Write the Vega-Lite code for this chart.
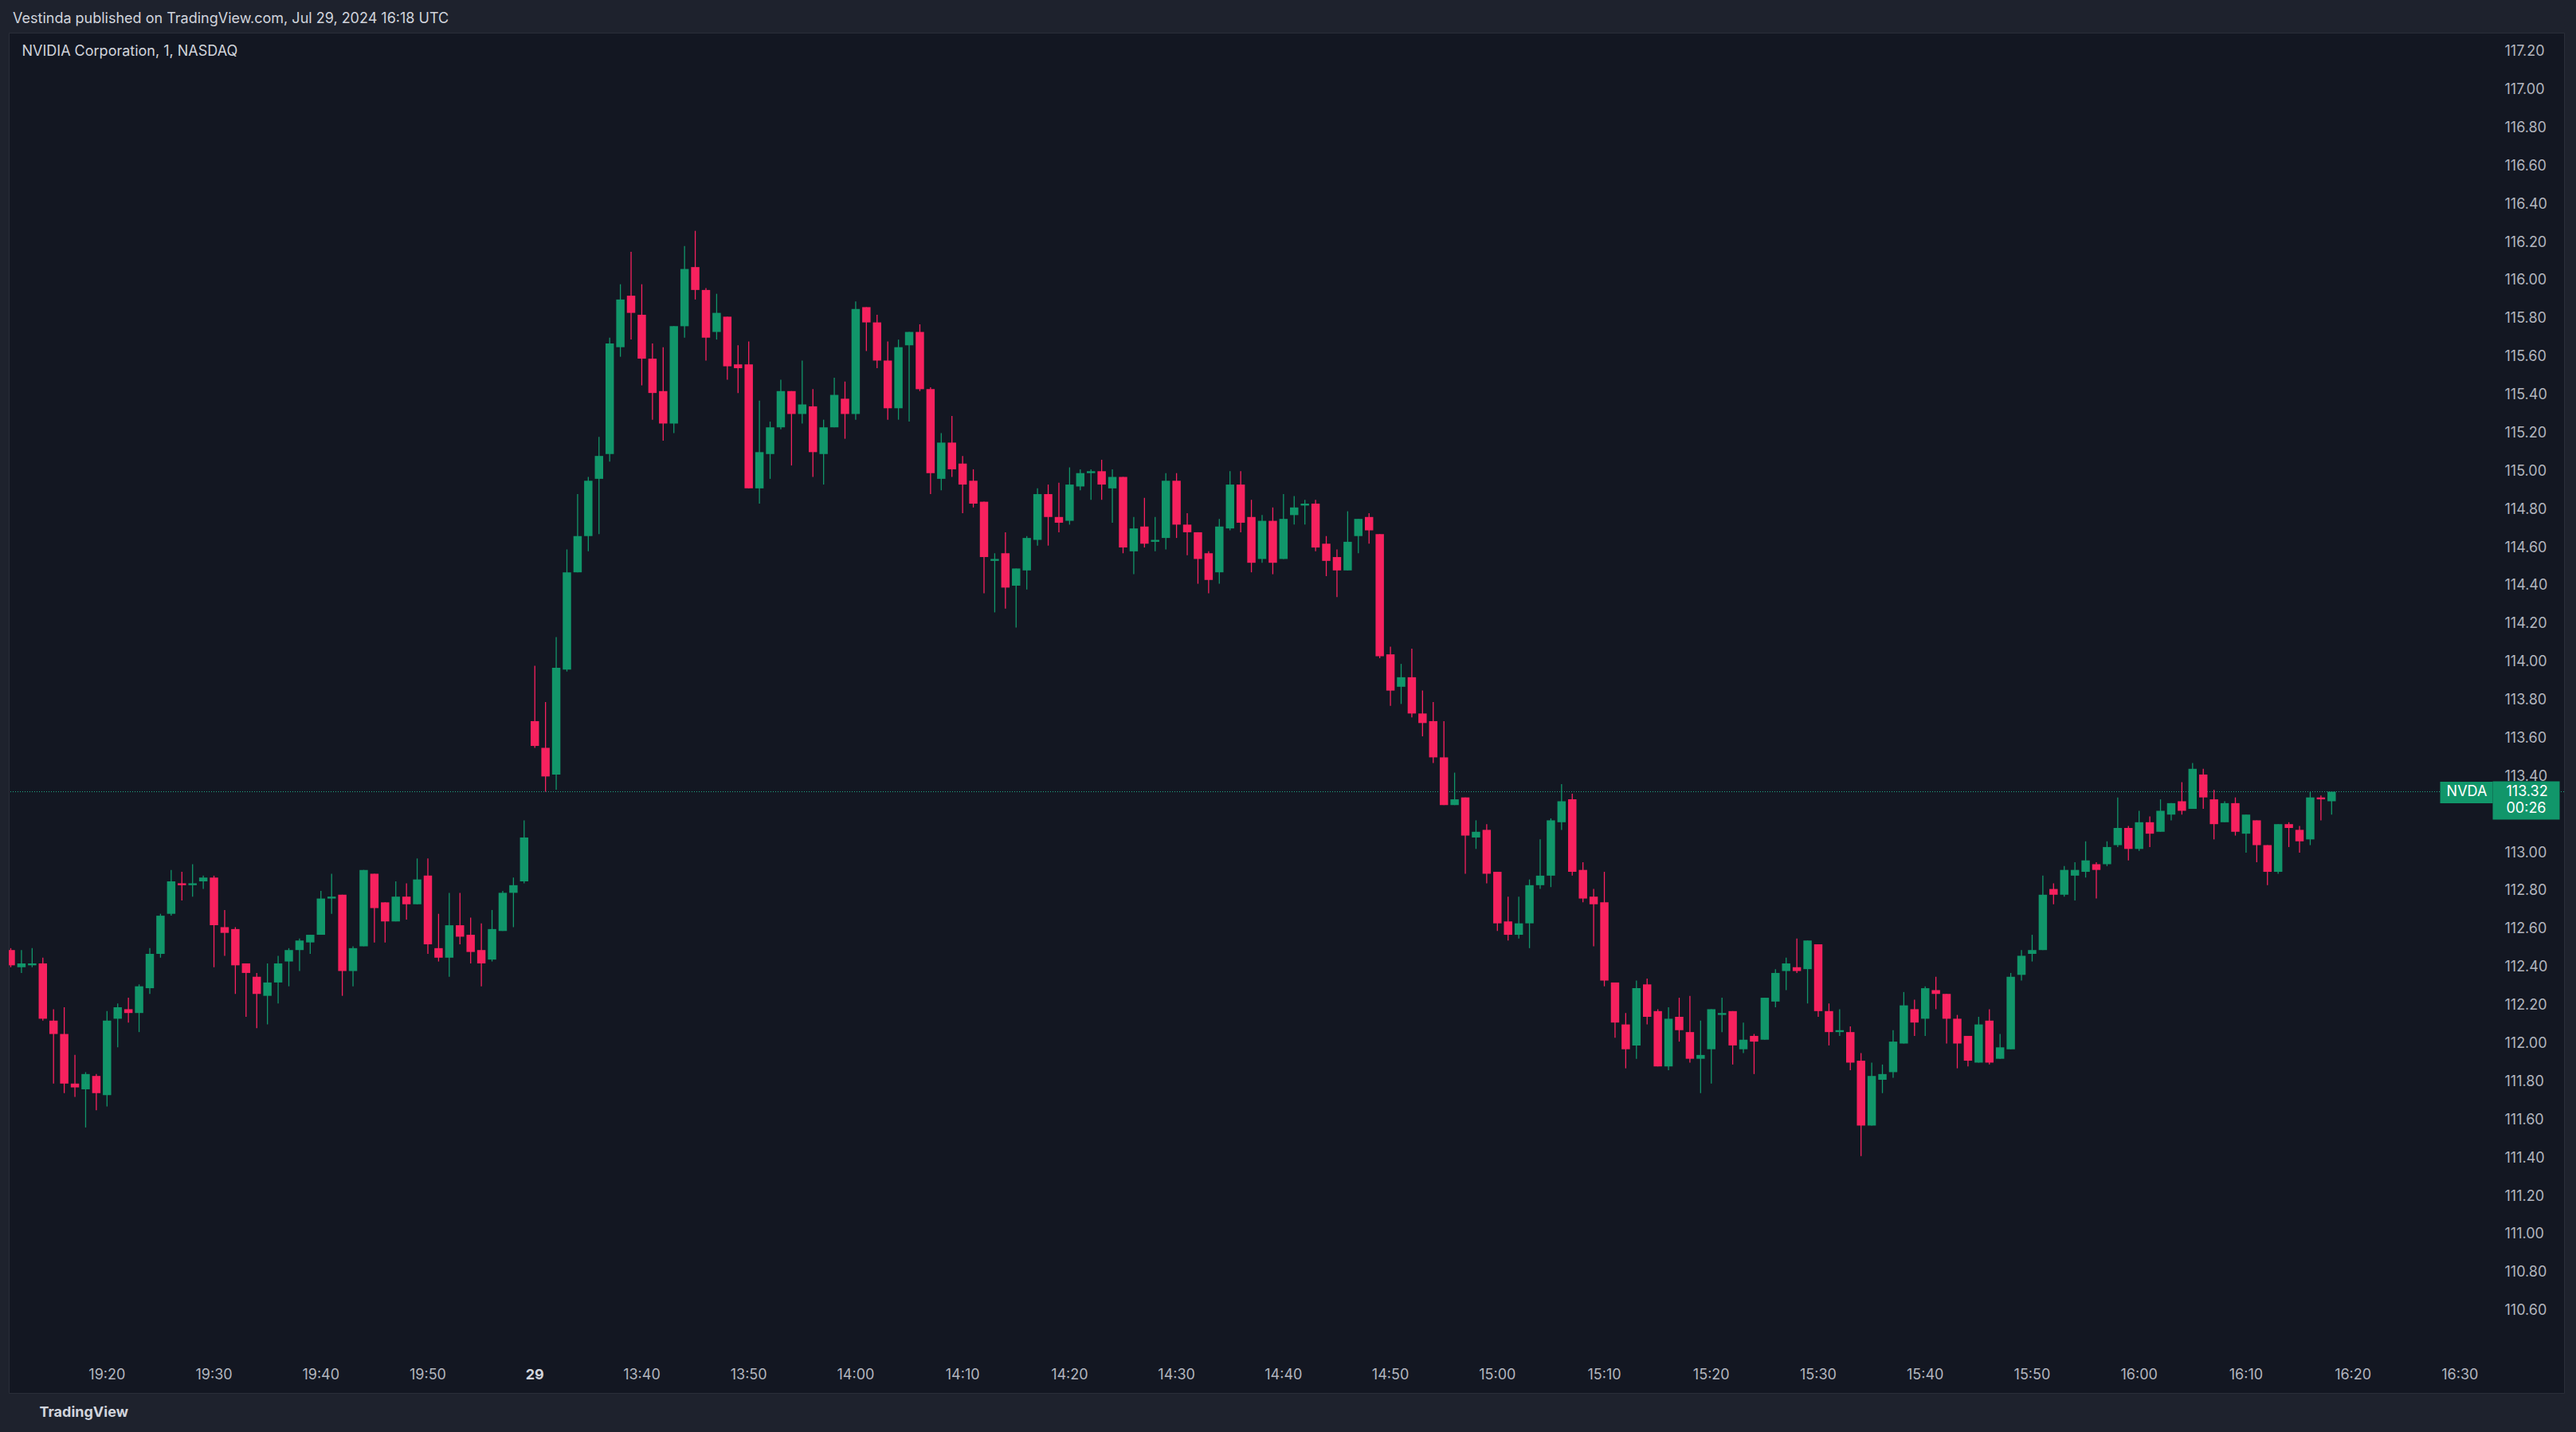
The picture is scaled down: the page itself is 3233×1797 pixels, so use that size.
{
  "$schema": "https://vega.github.io/schema/vega-lite/v6.json",
  "width": 3207,
  "height": 1707,
  "autosize": {"type": "none"},
  "padding": {"left": 11, "top": 41, "right": 15, "bottom": 49},
  "background": "#1e222d",
  "config": {
    "view": {"fill": "#131722", "stroke": "#2a2e39", "strokeWidth": 1}
  },
  "title": {
    "text": "Vestinda published on TradingView.com, Jul 29, 2024 16:18 UTC",
    "anchor": "start",
    "frame": "group",
    "offset": 8,
    "dx": 5,
    "font": "Inter",
    "fontSize": 18,
    "fontWeight": "normal",
    "color": "#d1d4dc"
  },
  "data": {
    "values": [
      {"t":"19:11","o":112.49,"h":112.5,"l":112.4,"c":112.41},
      {"t":"19:12","o":112.4,"h":112.49,"l":112.37,"c":112.42},
      {"t":"19:13","o":112.41,"h":112.5,"l":112.4,"c":112.42},
      {"t":"19:14","o":112.42,"h":112.45,"l":112.12,"c":112.13},
      {"t":"19:15","o":112.12,"h":112.18,"l":111.79,"c":112.05},
      {"t":"19:16","o":112.05,"h":112.19,"l":111.74,"c":111.79},
      {"t":"19:17","o":111.79,"h":111.94,"l":111.72,"c":111.77},
      {"t":"19:18","o":111.76,"h":111.85,"l":111.56,"c":111.84},
      {"t":"19:19","o":111.83,"h":111.84,"l":111.65,"c":111.74},
      {"t":"19:20","o":111.73,"h":112.17,"l":111.67,"c":112.12},
      {"t":"19:21","o":112.13,"h":112.21,"l":111.98,"c":112.19},
      {"t":"19:22","o":112.18,"h":112.24,"l":112.11,"c":112.16},
      {"t":"19:23","o":112.16,"h":112.31,"l":112.06,"c":112.3},
      {"t":"19:24","o":112.29,"h":112.5,"l":112.26,"c":112.47},
      {"t":"19:25","o":112.47,"h":112.68,"l":112.45,"c":112.67},
      {"t":"19:26","o":112.68,"h":112.91,"l":112.67,"c":112.85},
      {"t":"19:27","o":112.84,"h":112.9,"l":112.75,"c":112.83},
      {"t":"19:28","o":112.83,"h":112.94,"l":112.77,"c":112.84},
      {"t":"19:29","o":112.85,"h":112.88,"l":112.81,"c":112.87},
      {"t":"19:30","o":112.87,"h":112.88,"l":112.4,"c":112.62},
      {"t":"19:31","o":112.61,"h":112.7,"l":112.46,"c":112.58},
      {"t":"19:32","o":112.6,"h":112.61,"l":112.26,"c":112.41},
      {"t":"19:33","o":112.42,"h":112.42,"l":112.14,"c":112.37},
      {"t":"19:34","o":112.35,"h":112.37,"l":112.08,"c":112.26},
      {"t":"19:35","o":112.25,"h":112.42,"l":112.1,"c":112.32},
      {"t":"19:36","o":112.32,"h":112.46,"l":112.21,"c":112.42},
      {"t":"19:37","o":112.43,"h":112.5,"l":112.3,"c":112.49},
      {"t":"19:38","o":112.49,"h":112.55,"l":112.38,"c":112.54},
      {"t":"19:39","o":112.53,"h":112.57,"l":112.47,"c":112.57},
      {"t":"19:40","o":112.57,"h":112.8,"l":112.57,"c":112.76},
      {"t":"19:41","o":112.76,"h":112.89,"l":112.68,"c":112.77},
      {"t":"19:42","o":112.78,"h":112.78,"l":112.25,"c":112.38},
      {"t":"19:43","o":112.38,"h":112.51,"l":112.3,"c":112.5},
      {"t":"19:44","o":112.51,"h":112.91,"l":112.51,"c":112.91},
      {"t":"19:45","o":112.89,"h":112.89,"l":112.53,"c":112.71},
      {"t":"19:46","o":112.74,"h":112.74,"l":112.53,"c":112.64},
      {"t":"19:47","o":112.64,"h":112.85,"l":112.64,"c":112.77},
      {"t":"19:48","o":112.77,"h":112.84,"l":112.65,"c":112.73},
      {"t":"19:49","o":112.73,"h":112.97,"l":112.73,"c":112.86},
      {"t":"19:50","o":112.88,"h":112.97,"l":112.47,"c":112.52},
      {"t":"19:51","o":112.5,"h":112.68,"l":112.43,"c":112.45},
      {"t":"19:52","o":112.45,"h":112.79,"l":112.35,"c":112.62},
      {"t":"19:53","o":112.62,"h":112.79,"l":112.52,"c":112.56},
      {"t":"19:54","o":112.57,"h":112.66,"l":112.42,"c":112.48},
      {"t":"19:55","o":112.49,"h":112.63,"l":112.3,"c":112.42},
      {"t":"19:56","o":112.44,"h":112.7,"l":112.43,"c":112.6},
      {"t":"19:57","o":112.59,"h":112.8,"l":112.59,"c":112.79},
      {"t":"19:58","o":112.79,"h":112.87,"l":112.61,"c":112.83},
      {"t":"19:59","o":112.85,"h":113.17,"l":112.84,"c":113.08},
      {"t":"13:30","o":113.69,"h":113.98,"l":113.55,"c":113.56},
      {"t":"13:31","o":113.55,"h":113.79,"l":113.32,"c":113.4},
      {"t":"13:32","o":113.41,"h":114.13,"l":113.33,"c":113.97},
      {"t":"13:33","o":113.96,"h":114.59,"l":113.95,"c":114.47},
      {"t":"13:34","o":114.47,"h":114.88,"l":114.47,"c":114.66},
      {"t":"13:35","o":114.66,"h":114.97,"l":114.58,"c":114.95},
      {"t":"13:36","o":114.96,"h":115.18,"l":114.67,"c":115.08},
      {"t":"13:37","o":115.09,"h":115.7,"l":115.05,"c":115.67},
      {"t":"13:38","o":115.65,"h":115.98,"l":115.6,"c":115.9},
      {"t":"13:39","o":115.92,"h":116.15,"l":115.69,"c":115.83},
      {"t":"13:40","o":115.82,"h":115.98,"l":115.45,"c":115.59},
      {"t":"13:41","o":115.59,"h":115.67,"l":115.27,"c":115.41},
      {"t":"13:42","o":115.42,"h":115.65,"l":115.16,"c":115.25},
      {"t":"13:43","o":115.25,"h":115.76,"l":115.2,"c":115.76},
      {"t":"13:44","o":115.76,"h":116.18,"l":115.7,"c":116.06},
      {"t":"13:45","o":116.07,"h":116.26,"l":115.9,"c":115.95},
      {"t":"13:46","o":115.95,"h":115.96,"l":115.58,"c":115.7},
      {"t":"13:47","o":115.73,"h":115.93,"l":115.69,"c":115.83},
      {"t":"13:48","o":115.81,"h":115.81,"l":115.48,"c":115.55},
      {"t":"13:49","o":115.56,"h":115.66,"l":115.41,"c":115.54},
      {"t":"13:50","o":115.56,"h":115.68,"l":114.91,"c":114.91},
      {"t":"13:51","o":114.91,"h":115.37,"l":114.83,"c":115.1},
      {"t":"13:52","o":115.09,"h":115.26,"l":114.96,"c":115.23},
      {"t":"13:53","o":115.23,"h":115.48,"l":115.22,"c":115.42},
      {"t":"13:54","o":115.42,"h":115.42,"l":115.03,"c":115.3},
      {"t":"13:55","o":115.3,"h":115.58,"l":115.25,"c":115.35},
      {"t":"13:56","o":115.34,"h":115.43,"l":114.97,"c":115.1},
      {"t":"13:57","o":115.09,"h":115.27,"l":114.93,"c":115.23},
      {"t":"13:58","o":115.23,"h":115.49,"l":115.23,"c":115.4},
      {"t":"13:59","o":115.38,"h":115.47,"l":115.17,"c":115.3},
      {"t":"14:00","o":115.3,"h":115.89,"l":115.27,"c":115.85},
      {"t":"14:01","o":115.86,"h":115.86,"l":115.63,"c":115.78},
      {"t":"14:02","o":115.78,"h":115.82,"l":115.54,"c":115.58},
      {"t":"14:03","o":115.58,"h":115.68,"l":115.27,"c":115.33},
      {"t":"14:04","o":115.33,"h":115.69,"l":115.27,"c":115.65},
      {"t":"14:05","o":115.66,"h":115.73,"l":115.26,"c":115.73},
      {"t":"14:06","o":115.73,"h":115.77,"l":115.42,"c":115.43},
      {"t":"14:07","o":115.43,"h":115.44,"l":114.88,"c":114.99},
      {"t":"14:08","o":114.96,"h":115.2,"l":114.9,"c":115.15},
      {"t":"14:09","o":115.15,"h":115.29,"l":114.97,"c":115.01},
      {"t":"14:10","o":115.04,"h":115.08,"l":114.78,"c":114.93},
      {"t":"14:11","o":114.95,"h":115.01,"l":114.81,"c":114.83},
      {"t":"14:12","o":114.84,"h":114.84,"l":114.36,"c":114.55},
      {"t":"14:13","o":114.53,"h":114.57,"l":114.26,"c":114.54},
      {"t":"14:14","o":114.57,"h":114.68,"l":114.28,"c":114.39},
      {"t":"14:15","o":114.4,"h":114.49,"l":114.18,"c":114.49},
      {"t":"14:16","o":114.48,"h":114.66,"l":114.38,"c":114.65},
      {"t":"14:17","o":114.64,"h":114.91,"l":114.61,"c":114.88},
      {"t":"14:18","o":114.88,"h":114.93,"l":114.61,"c":114.76},
      {"t":"14:19","o":114.76,"h":114.94,"l":114.68,"c":114.73},
      {"t":"14:20","o":114.74,"h":115.02,"l":114.72,"c":114.93},
      {"t":"14:21","o":114.92,"h":115.01,"l":114.9,"c":114.99},
      {"t":"14:22","o":114.99,"h":115.01,"l":114.85,"c":115.0},
      {"t":"14:23","o":115.0,"h":115.06,"l":114.85,"c":114.93},
      {"t":"14:24","o":114.91,"h":115.01,"l":114.73,"c":114.97},
      {"t":"14:25","o":114.97,"h":114.97,"l":114.57,"c":114.6},
      {"t":"14:26","o":114.58,"h":114.76,"l":114.46,"c":114.7},
      {"t":"14:27","o":114.71,"h":114.86,"l":114.6,"c":114.62},
      {"t":"14:28","o":114.63,"h":114.76,"l":114.58,"c":114.64},
      {"t":"14:29","o":114.65,"h":114.99,"l":114.59,"c":114.95},
      {"t":"14:30","o":114.95,"h":114.99,"l":114.65,"c":114.72},
      {"t":"14:31","o":114.72,"h":114.78,"l":114.56,"c":114.68},
      {"t":"14:32","o":114.68,"h":114.68,"l":114.41,"c":114.54},
      {"t":"14:33","o":114.57,"h":114.58,"l":114.36,"c":114.43},
      {"t":"14:34","o":114.47,"h":114.75,"l":114.41,"c":114.71},
      {"t":"14:35","o":114.7,"h":115.0,"l":114.69,"c":114.93},
      {"t":"14:36","o":114.93,"h":115.0,"l":114.68,"c":114.73},
      {"t":"14:37","o":114.76,"h":114.85,"l":114.47,"c":114.52},
      {"t":"14:38","o":114.54,"h":114.77,"l":114.52,"c":114.74},
      {"t":"14:39","o":114.74,"h":114.81,"l":114.46,"c":114.52},
      {"t":"14:40","o":114.54,"h":114.88,"l":114.54,"c":114.75},
      {"t":"14:41","o":114.77,"h":114.87,"l":114.72,"c":114.81},
      {"t":"14:42","o":114.82,"h":114.85,"l":114.72,"c":114.83},
      {"t":"14:43","o":114.83,"h":114.85,"l":114.58,"c":114.6},
      {"t":"14:44","o":114.62,"h":114.66,"l":114.45,"c":114.53},
      {"t":"14:45","o":114.55,"h":114.59,"l":114.34,"c":114.48},
      {"t":"14:46","o":114.48,"h":114.79,"l":114.48,"c":114.63},
      {"t":"14:47","o":114.66,"h":114.75,"l":114.57,"c":114.75},
      {"t":"14:48","o":114.76,"h":114.78,"l":114.62,"c":114.69},
      {"t":"14:49","o":114.67,"h":114.67,"l":114.02,"c":114.03},
      {"t":"14:50","o":114.04,"h":114.08,"l":113.77,"c":113.85},
      {"t":"14:51","o":113.87,"h":113.99,"l":113.78,"c":113.92},
      {"t":"14:52","o":113.92,"h":114.07,"l":113.71,"c":113.73},
      {"t":"14:53","o":113.73,"h":113.85,"l":113.61,"c":113.68},
      {"t":"14:54","o":113.69,"h":113.79,"l":113.47,"c":113.5},
      {"t":"14:55","o":113.5,"h":113.69,"l":113.25,"c":113.25},
      {"t":"14:56","o":113.25,"h":113.42,"l":113.25,"c":113.28},
      {"t":"14:57","o":113.29,"h":113.29,"l":112.89,"c":113.09},
      {"t":"14:58","o":113.08,"h":113.17,"l":113.02,"c":113.11},
      {"t":"14:59","o":113.12,"h":113.15,"l":112.84,"c":112.89},
      {"t":"15:00","o":112.9,"h":112.9,"l":112.59,"c":112.63},
      {"t":"15:01","o":112.64,"h":112.77,"l":112.54,"c":112.57},
      {"t":"15:02","o":112.57,"h":112.77,"l":112.55,"c":112.63},
      {"t":"15:03","o":112.63,"h":112.86,"l":112.5,"c":112.83},
      {"t":"15:04","o":112.83,"h":113.07,"l":112.81,"c":112.88},
      {"t":"15:05","o":112.88,"h":113.18,"l":112.82,"c":113.17},
      {"t":"15:06","o":113.16,"h":113.36,"l":113.12,"c":113.27},
      {"t":"15:07","o":113.28,"h":113.31,"l":112.88,"c":112.9},
      {"t":"15:08","o":112.91,"h":112.95,"l":112.74,"c":112.76},
      {"t":"15:09","o":112.77,"h":112.81,"l":112.51,"c":112.73},
      {"t":"15:10","o":112.74,"h":112.9,"l":112.3,"c":112.33},
      {"t":"15:11","o":112.32,"h":112.32,"l":112.03,"c":112.11},
      {"t":"15:12","o":112.1,"h":112.16,"l":111.87,"c":111.97},
      {"t":"15:13","o":111.99,"h":112.33,"l":111.92,"c":112.29},
      {"t":"15:14","o":112.31,"h":112.34,"l":112.1,"c":112.14},
      {"t":"15:15","o":112.17,"h":112.18,"l":111.88,"c":111.88},
      {"t":"15:16","o":111.88,"h":112.19,"l":111.86,"c":112.13},
      {"t":"15:17","o":112.14,"h":112.24,"l":112.01,"c":112.07},
      {"t":"15:18","o":112.06,"h":112.25,"l":111.9,"c":111.92},
      {"t":"15:19","o":111.92,"h":112.12,"l":111.74,"c":111.94},
      {"t":"15:20","o":111.97,"h":112.18,"l":111.79,"c":112.18},
      {"t":"15:21","o":112.15,"h":112.24,"l":112.06,"c":112.16},
      {"t":"15:22","o":112.17,"h":112.17,"l":111.89,"c":111.99},
      {"t":"15:23","o":111.97,"h":112.11,"l":111.95,"c":112.02},
      {"t":"15:24","o":112.04,"h":112.05,"l":111.84,"c":112.01},
      {"t":"15:25","o":112.02,"h":112.24,"l":112.02,"c":112.24},
      {"t":"15:26","o":112.22,"h":112.39,"l":112.19,"c":112.37},
      {"t":"15:27","o":112.38,"h":112.45,"l":112.28,"c":112.42},
      {"t":"15:28","o":112.4,"h":112.55,"l":112.37,"c":112.38},
      {"t":"15:29","o":112.39,"h":112.54,"l":112.21,"c":112.54},
      {"t":"15:30","o":112.52,"h":112.52,"l":112.14,"c":112.17},
      {"t":"15:31","o":112.17,"h":112.21,"l":111.99,"c":112.06},
      {"t":"15:32","o":112.06,"h":112.18,"l":112.04,"c":112.07},
      {"t":"15:33","o":112.06,"h":112.09,"l":111.86,"c":111.9},
      {"t":"15:34","o":111.91,"h":111.95,"l":111.41,"c":111.57},
      {"t":"15:35","o":111.57,"h":111.9,"l":111.57,"c":111.83},
      {"t":"15:36","o":111.81,"h":111.89,"l":111.74,"c":111.84},
      {"t":"15:37","o":111.85,"h":112.07,"l":111.82,"c":112.01},
      {"t":"15:38","o":112.0,"h":112.27,"l":112.0,"c":112.2},
      {"t":"15:39","o":112.18,"h":112.23,"l":112.04,"c":112.11},
      {"t":"15:40","o":112.13,"h":112.3,"l":112.04,"c":112.29},
      {"t":"15:41","o":112.28,"h":112.35,"l":112.18,"c":112.26},
      {"t":"15:42","o":112.26,"h":112.26,"l":112.0,"c":112.13},
      {"t":"15:43","o":112.13,"h":112.15,"l":111.87,"c":112.0},
      {"t":"15:44","o":112.04,"h":112.04,"l":111.88,"c":111.91},
      {"t":"15:45","o":111.9,"h":112.14,"l":111.9,"c":112.1},
      {"t":"15:46","o":112.12,"h":112.18,"l":111.89,"c":111.9},
      {"t":"15:47","o":111.92,"h":112.05,"l":111.92,"c":111.98},
      {"t":"15:48","o":111.97,"h":112.37,"l":111.97,"c":112.35},
      {"t":"15:49","o":112.36,"h":112.49,"l":112.33,"c":112.46},
      {"t":"15:50","o":112.47,"h":112.57,"l":112.43,"c":112.49},
      {"t":"15:51","o":112.49,"h":112.88,"l":112.49,"c":112.78},
      {"t":"15:52","o":112.81,"h":112.84,"l":112.73,"c":112.78},
      {"t":"15:53","o":112.78,"h":112.93,"l":112.77,"c":112.91},
      {"t":"15:54","o":112.88,"h":112.95,"l":112.75,"c":112.91},
      {"t":"15:55","o":112.9,"h":113.06,"l":112.87,"c":112.96},
      {"t":"15:56","o":112.94,"h":112.95,"l":112.76,"c":112.91},
      {"t":"15:57","o":112.94,"h":113.06,"l":112.93,"c":113.03},
      {"t":"15:58","o":113.04,"h":113.29,"l":113.03,"c":113.13},
      {"t":"15:59","o":113.13,"h":113.14,"l":112.96,"c":113.02},
      {"t":"16:00","o":113.02,"h":113.22,"l":113.01,"c":113.16},
      {"t":"16:01","o":113.16,"h":113.19,"l":113.03,"c":113.1},
      {"t":"16:02","o":113.11,"h":113.28,"l":113.11,"c":113.22},
      {"t":"16:03","o":113.2,"h":113.26,"l":113.17,"c":113.26},
      {"t":"16:04","o":113.27,"h":113.37,"l":113.2,"c":113.22},
      {"t":"16:05","o":113.23,"h":113.47,"l":113.23,"c":113.44},
      {"t":"16:06","o":113.41,"h":113.44,"l":113.23,"c":113.29},
      {"t":"16:07","o":113.28,"h":113.33,"l":113.07,"c":113.15},
      {"t":"16:08","o":113.16,"h":113.27,"l":113.16,"c":113.26},
      {"t":"16:09","o":113.26,"h":113.29,"l":113.09,"c":113.11},
      {"t":"16:10","o":113.1,"h":113.2,"l":113.0,"c":113.2},
      {"t":"16:11","o":113.17,"h":113.17,"l":112.95,"c":113.04},
      {"t":"16:12","o":113.04,"h":113.04,"l":112.83,"c":112.9},
      {"t":"16:13","o":112.9,"h":113.15,"l":112.89,"c":113.15},
      {"t":"16:14","o":113.15,"h":113.16,"l":113.03,"c":113.13},
      {"t":"16:15","o":113.12,"h":113.14,"l":113.0,"c":113.06},
      {"t":"16:16","o":113.07,"h":113.32,"l":113.04,"c":113.29},
      {"t":"16:17","o":113.29,"h":113.3,"l":113.17,"c":113.28},
      {"t":"16:18","o":113.27,"h":113.32,"l":113.2,"c":113.32}
    ]
  },
  "encoding": {
    "x": {
      "field": "t",
      "type": "ordinal",
      "scale": {
        "domain": ["19:11","19:12","19:13","19:14","19:15","19:16","19:17","19:18","19:19","19:20","19:21","19:22","19:23","19:24","19:25","19:26","19:27","19:28","19:29","19:30","19:31","19:32","19:33","19:34","19:35","19:36","19:37","19:38","19:39","19:40","19:41","19:42","19:43","19:44","19:45","19:46","19:47","19:48","19:49","19:50","19:51","19:52","19:53","19:54","19:55","19:56","19:57","19:58","19:59",
          "13:30","13:31","13:32","13:33","13:34","13:35","13:36","13:37","13:38","13:39","13:40","13:41","13:42","13:43","13:44","13:45","13:46","13:47","13:48","13:49","13:50","13:51","13:52","13:53","13:54","13:55","13:56","13:57","13:58","13:59",
          "14:00","14:01","14:02","14:03","14:04","14:05","14:06","14:07","14:08","14:09","14:10","14:11","14:12","14:13","14:14","14:15","14:16","14:17","14:18","14:19","14:20","14:21","14:22","14:23","14:24","14:25","14:26","14:27","14:28","14:29","14:30","14:31","14:32","14:33","14:34","14:35","14:36","14:37","14:38","14:39","14:40","14:41","14:42","14:43","14:44","14:45","14:46","14:47","14:48","14:49","14:50","14:51","14:52","14:53","14:54","14:55","14:56","14:57","14:58","14:59",
          "15:00","15:01","15:02","15:03","15:04","15:05","15:06","15:07","15:08","15:09","15:10","15:11","15:12","15:13","15:14","15:15","15:16","15:17","15:18","15:19","15:20","15:21","15:22","15:23","15:24","15:25","15:26","15:27","15:28","15:29","15:30","15:31","15:32","15:33","15:34","15:35","15:36","15:37","15:38","15:39","15:40","15:41","15:42","15:43","15:44","15:45","15:46","15:47","15:48","15:49","15:50","15:51","15:52","15:53","15:54","15:55","15:56","15:57","15:58","15:59",
          "16:00","16:01","16:02","16:03","16:04","16:05","16:06","16:07","16:08","16:09","16:10","16:11","16:12","16:13","16:14","16:15","16:16","16:17","16:18","16:19","16:20","16:21","16:22","16:23","16:24","16:25","16:26","16:27","16:28","16:29","16:30","16:31","16:32"],
        "range": [-2.735, 3108.45],
        "paddingInner": 0.22,
        "paddingOuter": 0
      },
      "axis": {
        "orient": "bottom",
        "offset": -36,
        "values": ["19:20","19:30","19:40","19:50","13:30","13:40","13:50","14:00","14:10","14:20","14:30","14:40","14:50","15:00","15:10","15:20","15:30","15:40","15:50","16:00","16:10","16:20","16:30"],
        "labelExpr": "datum.value == '13:30' ? '29' : datum.label",
        "labelAngle": 0,
        "domain": false,
        "ticks": false,
        "grid": false,
        "labelPadding": 4,
        "labelFont": "Inter",
        "labelFontSize": 18,
        "labelFontWeight": {"condition": {"test": "datum.value == '13:30'", "value": "bold"}, "value": "normal"},
        "labelColor": {"condition": {"test": "datum.value == '13:30'", "value": "#d1d4dc"}, "value": "#b2b5be"},
        "title": "TradingView",
        "titleX": 38,
        "titleY": 60,
        "titleAlign": "left",
        "titleAnchor": "start",
        "titleBaseline": "middle",
        "titleFont": "Inter",
        "titleFontSize": 18,
        "titleFontWeight": "bold",
        "titleColor": "#d1d4dc"
      }
    },
    "y": {
      "type": "quantitative",
      "scale": {"domain": [110.6, 117.2], "range": [1603.67, 23.63], "zero": false, "nice": false},
      "axis": {
        "orient": "right",
        "offset": -90,
        "zindex": 2,
        "values": [110.6,110.8,111,111.2,111.4,111.6,111.8,112,112.2,112.4,112.6,112.8,113,113.4,113.6,113.8,114,114.2,114.4,114.6,114.8,115,115.2,115.4,115.6,115.8,116,116.2,116.4,116.6,116.8,117,117.2,113.32,113.2761],
        "format": ".2f",
        "labelExpr": "abs(datum.value-113.32)<0.0001 ? 'NVDA' : (abs(datum.value-113.2761)<0.0001 ? ['113.32','00:26'] : datum.label)",
        "domain": false,
        "grid": false,
        "ticks": true,
        "tickSize": {"condition": [{"test": "abs(datum.value-113.32)<0.0001", "value": -66}, {"test": "abs(datum.value-113.2761)<0.0001", "value": 84}], "value": 0},
        "tickWidth": {"condition": [{"test": "abs(datum.value-113.32)<0.0001", "value": 27}, {"test": "abs(datum.value-113.2761)<0.0001", "value": 48}], "value": 0},
        "tickColor": {"condition": [{"test": "abs(datum.value-113.32)<0.0001", "value": "#11966a"}, {"test": "abs(datum.value-113.2761)<0.0001", "value": "#11966a"}], "value": "transparent"},
        "tickCap": "butt",
        "labelPadding": {"condition": [{"test": "abs(datum.value-113.32)<0.0001", "value": 33.5}, {"test": "abs(datum.value-113.2761)<0.0001", "value": -67}], "value": 15},
        "labelOffset": {"condition": {"test": "abs(datum.value-113.2761)<0.0001", "value": -10.5}, "value": 0},
        "labelAlign": {"condition": {"test": "abs(datum.value-113.32)<0.0001", "value": "center"}, "value": "left"},
        "labelColor": {"condition": [{"test": "abs(datum.value-113.32)<0.0001", "value": "#ffffff"}, {"test": "abs(datum.value-113.2761)<0.0001", "value": "#ffffff"}], "value": "#b2b5be"},
        "labelBaseline": "middle",
        "labelFont": "Inter",
        "labelFontSize": 18,
        "labelLineHeight": 21,
        "labelOverlap": false,
        "labelFlush": false,
        "labelBound": false,
        "title": "NVIDIA Corporation, 1, NASDAQ",
        "titleAngle": 0,
        "titleX": -3101,
        "titleY": 23.5,
        "titleAlign": "left",
        "titleBaseline": "middle",
        "titleFont": "Inter",
        "titleFontSize": 18,
        "titleFontWeight": "normal",
        "titleColor": "#d1d4dc"
      }
    }
  },
  "layer": [
    {
      "mark": {"type": "rule", "strokeDash": [1, 2], "strokeWidth": 1.2, "color": "#20a884"},
      "encoding": {"x": null, "y": {"datum": 113.32}}
    },
    {
      "mark": {"type": "rule", "strokeWidth": 1.3, "clip": true},
      "encoding": {
        "y": {"field": "l", "type": "quantitative"},
        "y2": {"field": "h"},
        "color": {"condition": {"test": "datum.c >= datum.o", "value": "#11966a"}, "value": "#f7215e"}
      }
    },
    {
      "mark": {"type": "bar", "clip": true},
      "encoding": {
        "y": {"field": "o", "type": "quantitative"},
        "y2": {"field": "c"},
        "color": {"condition": {"test": "datum.c >= datum.o", "value": "#11966a"}, "value": "#f7215e"}
      }
    }
  ]
}
